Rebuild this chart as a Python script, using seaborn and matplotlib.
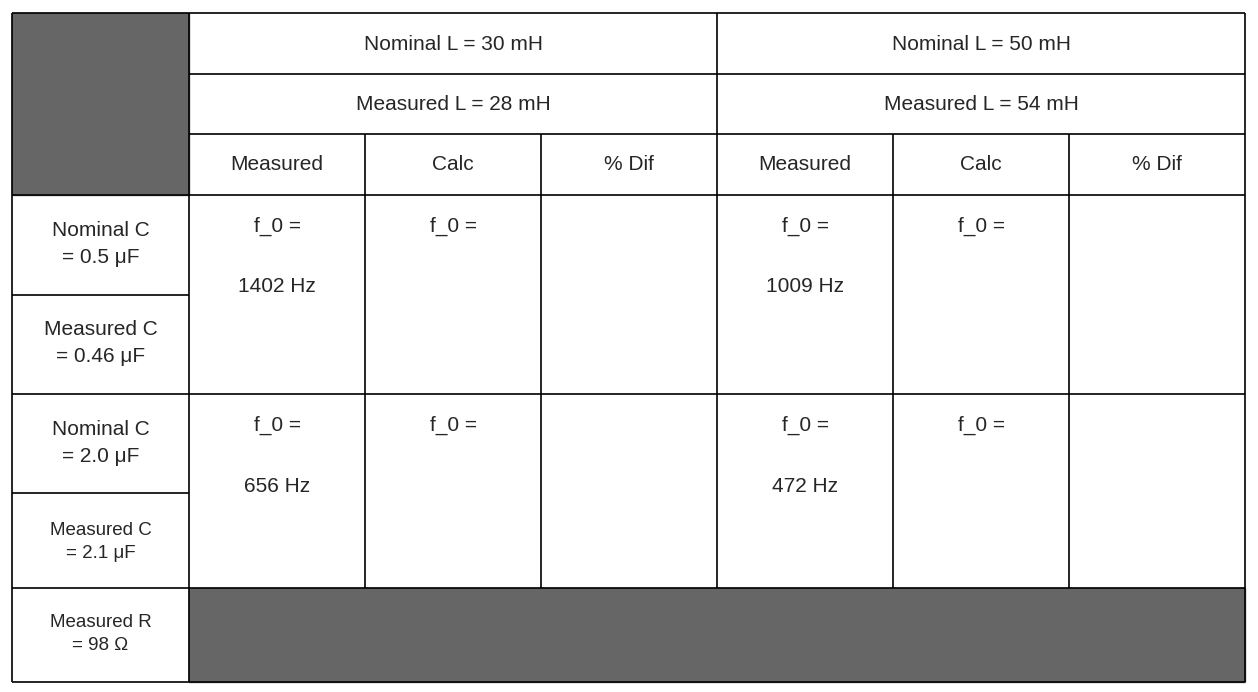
import matplotlib
matplotlib.use("Agg")
import matplotlib.pyplot as plt
import seaborn as sns
from matplotlib.patches import Rectangle

sns.set_style("white")
plt.rcParams['font.family'] = ['Liberation Sans', 'DejaVu Sans']

# table content
nominal_L = ["Nominal L = 30 mH", "Nominal L = 50 mH"]
measured_L = ["Measured L = 28 mH", "Measured L = 54 mH"]
sub_headers = ["Measured", "Calc", "% Dif"]
nominal_C = ["Nominal C\n= 0.5 μF", "Nominal C\n= 2.0 μF"]
measured_C = ["Measured C\n= 0.46 μF", "Measured C\n= 2.1 μF"]
measured_f0 = [["1402 Hz", "1009 Hz"], ["656 Hz", "472 Hz"]]
resistor_label = "Measured R\n= 98 Ω"

# layout (pixels)
xs = [12, 189, 365, 541, 717, 893, 1069, 1245]
ys_head = [13, 74, 134, 195]
ys_body = [195, 295, 394, 493, 588, 682]
gray = "#666666"
fs = 15

fig = plt.figure(figsize=(12.58, 6.92), dpi=100)
ax = fig.add_axes([0, 0, 1, 1])
ax.set_xlim(0, 1258)
ax.set_ylim(692, 0)
ax.axis("off")

def line(x0, y0, x1, y1):
    ax.plot([x0, x1], [y0, y1], color="black", lw=1.2, solid_capstyle="butt")

# gray blocks
ax.add_patch(Rectangle((xs[0], ys_head[0]), xs[1] - xs[0], ys_head[3] - ys_head[0], color=gray, zorder=0))
ax.add_patch(Rectangle((xs[1], ys_body[4]), xs[-1] - xs[1], ys_body[5] - ys_body[4], color=gray, zorder=0))

# outer border
line(xs[0], ys_head[0], xs[-1], ys_head[0])
line(xs[0], ys_body[-1], xs[-1], ys_body[-1])
line(xs[0], ys_head[0], xs[0], ys_body[-1])
line(xs[-1], ys_head[0], xs[-1], ys_body[-1])
# header lines
line(xs[1], ys_head[1], xs[-1], ys_head[1])
line(xs[1], ys_head[2], xs[-1], ys_head[2])
line(xs[0], ys_head[3], xs[-1], ys_head[3])
line(xs[1], ys_head[0], xs[1], ys_body[-1])
line(xs[4], ys_head[0], xs[4], ys_body[4])
for i in [2, 3, 5, 6]:
    line(xs[i], ys_head[2], xs[i], ys_body[4])
# body lines
line(xs[0], ys_body[1], xs[1], ys_body[1])
line(xs[0], ys_body[2], xs[-1], ys_body[2])
line(xs[0], ys_body[3], xs[1], ys_body[3])
line(xs[0], ys_body[4], xs[-1], ys_body[4])

# header text
for g in range(2):
    cx = (xs[1 + 3 * g] + xs[4 + 3 * g]) / 2
    ax.text(cx, 45, nominal_L[g], ha="center", va="center", fontsize=fs)
    ax.text(cx, 105, measured_L[g], ha="center", va="center", fontsize=fs)
    for j, h in enumerate(sub_headers):
        c = (xs[1 + 3 * g + j] + xs[2 + 3 * g + j]) / 2
        ax.text(c, 165, h, ha="center", va="center", fontsize=fs)

# row labels
cx0 = (xs[0] + xs[1]) / 2
for r in range(2):
    top = ys_body[2 * r]
    ax.text(cx0, top + 49, nominal_C[r], ha="center", va="center", fontsize=fs, linespacing=1.5)
    ax.text(cx0, top + 148, measured_C[r], ha="center", va="center",
            fontsize=fs if r == 0 else 13.5, linespacing=1.5)
    for g in range(2):
        cm = (xs[1 + 3 * g] + xs[2 + 3 * g]) / 2
        cc = (xs[2 + 3 * g] + xs[3 + 3 * g]) / 2
        ax.text(cm, top + 31, "f_0 =", ha="center", va="center", fontsize=fs)
        ax.text(cc, top + 31, "f_0 =", ha="center", va="center", fontsize=fs)
        ax.text(cm, top + 92, measured_f0[r][g], ha="center", va="center", fontsize=fs)

ax.text(cx0, 634, resistor_label, ha="center", va="center", fontsize=13.5, linespacing=1.4)

fig.savefig("out.png", dpi=100)
